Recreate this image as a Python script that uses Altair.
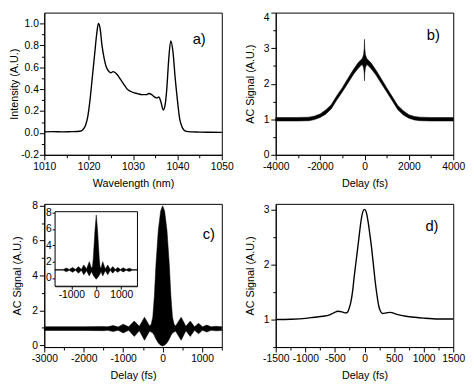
import altair as alt
import pandas as pd

FONT = "Liberation Sans"

# ---------------- data ----------------
# a) spectrum
wavelength = [1010, 1012, 1014, 1016, 1018, 1018.7, 1019.3, 1019.8, 1020.3, 1020.8,
              1021.3, 1021.8, 1022.2, 1022.6, 1023.0, 1023.5, 1024.0, 1024.5, 1025.0, 1025.5,
              1026.0, 1026.5, 1027.0, 1027.5, 1028.0, 1028.5, 1029.0, 1029.5, 1030.0, 1031.0,
              1032.0, 1033.0, 1033.6, 1034.2, 1034.8, 1035.4, 1035.8, 1036.3, 1036.8, 1037.2,
              1037.6, 1038.0, 1038.5, 1039.0, 1039.5, 1040.0, 1040.5, 1041.0, 1041.5, 1042.0,
              1043.0, 1045, 1047, 1050]
intensity = [0.01, 0.012, 0.01, 0.012, 0.015, 0.03, 0.07, 0.15, 0.3, 0.5,
             0.7, 0.9, 1.0, 0.95, 0.8, 0.68, 0.6, 0.565, 0.55, 0.56,
             0.55, 0.53, 0.5, 0.47, 0.44, 0.41, 0.39, 0.38, 0.37, 0.36,
             0.35, 0.35, 0.36, 0.35, 0.33, 0.32, 0.33, 0.28, 0.21, 0.25,
             0.4, 0.65, 0.84, 0.74, 0.5, 0.3, 0.13, 0.06, 0.025, 0.015,
             0.01, 0.008, 0.006, 0.005]

# b) intensity autocorrelation (band: upper / lower edge)
b_delay = [-4000, -3000, -2500, -2250, -2000, -1750, -1500, -1250, -1000, -750, -500,
           -300, -150, -100, -40, -12, 0, 12, 40, 100, 150, 300, 500, 750, 1000, 1250,
           1500, 1750, 2000, 2250, 2500, 3000, 4000]
b_upper = [1.05, 1.05, 1.06, 1.09, 1.15, 1.26, 1.41, 1.66, 1.89, 2.15, 2.4,
           2.58, 2.68, 2.71, 2.82, 3.0, 3.25, 3.0, 2.82, 2.71, 2.68, 2.58, 2.4, 2.15, 1.89, 1.64,
           1.39, 1.24, 1.13, 1.08, 1.06, 1.05, 1.05]
b_lower = [0.95, 0.95, 0.96, 0.99, 1.05, 1.14, 1.29, 1.54, 1.77, 2.01, 2.26,
           2.42, 2.52, 2.54, 2.45, 2.3, 2.08, 2.3, 2.45, 2.54, 2.52, 2.42, 2.26, 2.01, 1.77, 1.52,
           1.27, 1.12, 1.03, 0.98, 0.96, 0.95, 0.95]

# c) interferometric autocorrelation (fringe envelope)
c_delay = [-3000, -2000, -1500, -1400, -1250, -1130, -1000, -860, -720, -590, -460, -330,
           -290, -250, -210, -170, -110, -50, 0, 50, 110, 170, 210, 250,
           290, 330, 470, 590, 700, 810, 910, 1010, 1120, 1230, 1350, 1500]
c_upper = [1.06, 1.06, 1.07, 1.05, 1.12, 1.04, 1.2, 1.05, 1.38, 1.08, 1.6, 1.1,
           1.2, 1.6, 2.8, 4.6, 6.6, 7.7, 8.0, 7.7, 6.6, 4.6, 2.8, 1.6,
           1.2, 1.1, 1.6, 1.08, 1.38, 1.05, 1.25, 1.05, 1.15, 1.05, 1.08, 1.06]
c_lower = [0.84, 0.84, 0.83, 0.85, 0.78, 0.86, 0.7, 0.85, 0.5, 0.82, 0.28, 0.8,
           0.75, 0.7, 0.55, 0.35, 0.12, 0.0, -0.05, 0.0, 0.12, 0.35, 0.55, 0.7,
           0.75, 0.8, 0.28, 0.82, 0.5, 0.85, 0.65, 0.85, 0.75, 0.85, 0.82, 0.84]

# c) inset
inset_delay = [-1650, -1320, -1200, -1080, -950, -830, -710, -600, -500, -390, -280, -190,
               -150, -120, -90, -50, 0, 50, 90, 120, 150, 190, 260, 360, 460, 560, 660,
               760, 860, 970, 1080, 1200, 1320, 1440, 1650]
inset_upper = [1.05, 1.05, 1.22, 1.05, 1.3, 1.05, 1.4, 1.05, 1.6, 1.1, 2.0, 1.2,
               1.4, 2.4, 3.9, 5.9, 7.7, 5.9, 3.9, 2.4, 1.4, 1.2, 2.0, 1.1, 1.6, 1.05, 1.4,
               1.05, 1.3, 1.05, 1.25, 1.05, 1.2, 1.05, 1.05]
inset_lower = [0.95, 0.95, 0.78, 0.95, 0.7, 0.95, 0.6, 0.95, 0.4, 0.9, 0.25, 0.8,
               0.5, 0.35, 0.2, 0.05, -0.15, 0.05, 0.2, 0.35, 0.5, 0.8, 0.25, 0.9, 0.4, 0.95, 0.6,
               0.95, 0.7, 0.95, 0.75, 0.95, 0.8, 0.95, 0.95]

# d) intensity autocorrelation
d_delay = [-1500, -1250, -1000, -850, -700, -600, -520, -450, -380, -320, -290, -260,
           -230, -200, -175, -150, -120, -90, -60, -30, 0, 30, 60, 90, 120, 150, 180,
           210, 240, 270, 310, 370, 440, 500, 600, 700, 850, 1000, 1250, 1500]
d_signal = [1.0, 1.005, 1.02, 1.04, 1.06, 1.08, 1.12, 1.15, 1.14, 1.12, 1.13, 1.2,
            1.32, 1.52, 1.77, 1.99, 2.25, 2.52, 2.78, 2.95, 3.0, 2.95, 2.78, 2.55, 2.3, 2.0, 1.7,
            1.45, 1.25, 1.15, 1.11, 1.12, 1.13, 1.11, 1.08, 1.06, 1.04, 1.025, 1.01, 1.01]

panel_labels = ["a)", "b)", "c)", "d)"]

# ---------------- helpers ----------------
MINUS = "replace(datum.label, '\u2212', '-')"


def axis(title, values, major, fmt, orient, tpad, lpad=2, **kw):
    return alt.Axis(
        title=title, values=values, format=fmt, orient=orient,
        labelExpr=f"({major}) ? {MINUS} : ''",
        tickSize={"condition": {"test": major, "value": 5}, "value": 3},
        grid=False, labelOverlap=False, labelFlush=False,
        titlePadding=tpad, labelPadding=lpad, **kw,
    )


def sc(domain, **kw):
    return alt.Scale(domain=domain, nice=False, zero=False, **kw)


def label_layer(xenc, yenc, xv, yv, text):
    df = pd.DataFrame({"x": [xv], "y": [yv], "t": [text]})
    return alt.Chart(df).mark_text(fontSize=15, font=FONT, color="black").encode(
        x=xenc, y=yenc, text="t:N")


TOP_H = 145
BOT_H = 146
W = 181

# ---------------- panel a ----------------
xa = alt.X("x:Q", scale=sc([1010, 1050]),
           axis=axis("Wavelength (nm)", list(range(1010, 1051, 5)),
                     "datum.value % 10 == 0", "d", "bottom", 6))
ya = alt.Y("y:Q", scale=sc([-0.2, 1.1]),
           axis=axis("Intensity (A.U.)",
                     [-0.2, -0.1, 0.0, 0.1, 0.2, 0.3, 0.4, 0.5, 0.6, 0.7, 0.8, 0.9, 1.0],
                     "abs(round(datum.value * 10)) % 2 == 0", ".1f", "left", 1, 1))
dfa = pd.DataFrame({"x": wavelength, "y": intensity})
pa = alt.layer(
    alt.Chart(dfa).mark_line(color="black", strokeWidth=1.4, interpolate="monotone").encode(x=xa, y=ya),
    label_layer(xa, ya, 1044.9, 0.857, panel_labels[0]),
).properties(width=W, height=TOP_H)

# ---------------- panel b ----------------
xb = alt.X("x:Q", scale=sc([-4000, 4000]),
           axis=axis("Delay (fs)", list(range(-4000, 4001, 1000)),
                     "datum.value % 2000 == 0", "d", "bottom", 6))
yb = alt.Y("y:Q", scale=sc([0, 4]),
           axis=axis("AC Signal (A.U.)", [0, 0.5, 1, 1.5, 2, 2.5, 3, 3.5, 4],
                     "datum.value % 1 == 0", "~g", "left", 8,
                     labelBaseline={"condition": {"test": "datum.value == 4", "value": "top"},
                                    "value": "middle"}))
dfb = pd.DataFrame({"x": b_delay, "y": b_upper, "y2": b_lower})
pb = alt.layer(
    alt.Chart(dfb).mark_area(color="black", stroke="black", strokeWidth=0.5).encode(
        x=xb, y=yb, y2="y2:Q"),
    label_layer(xb, yb, 3100, 3.37, panel_labels[1]),
).properties(width=W, height=TOP_H)

# ---------------- panel c ----------------
xc = alt.X("x:Q", scale=sc([-3000, 1500]),
           axis=axis("Delay (fs)", list(range(-3000, 1501, 500)),
                     "datum.value % 1000 == 0", "d", "bottom", 6))
yc = alt.Y("y:Q", scale=sc([-0.11, 8.11]),
           axis=axis("AC Signal (A.U.)", list(range(0, 9)),
                     "datum.value % 2 == 0", "d", "left", 9))
dfc = pd.DataFrame({"x": c_delay, "y": c_upper, "y2": c_lower})
c_main = alt.layer(
    alt.Chart(dfc).mark_area(color="black", stroke="black", strokeWidth=0.5).encode(
        x=xc, y=yc, y2="y2:Q"),
    label_layer(xc, yc, 1170, 6.4, panel_labels[2]),
)

inset_axis_common = dict(title=None, tickSize=3, labelPadding=1, grid=False,
                         labelOverlap=False, labelFlush=False, labelExpr=MINUS)
xi = alt.X("x:Q", scale=sc([-1650, 1650], range=[11, 95]),
           axis=alt.Axis(orient="bottom", offset=-62, values=[-1000, 0, 1000], format="d",
                         **inset_axis_common))
yi = alt.Y("y:Q", scale=sc([-1, 8.1], range=[84, 8]),
           axis=alt.Axis(orient="left", offset=-11, values=[0, 2, 4, 6, 8], format="d",
                         **inset_axis_common))
frame_df = pd.DataFrame({"x": [-1650], "x2": [1650], "y": [-1], "y2": [8.1]})
dfi = pd.DataFrame({"x": inset_delay, "y": inset_upper, "y2": inset_lower})
c_inset = alt.layer(
    alt.Chart(frame_df).mark_rect(fill="white", stroke="black", strokeWidth=1).encode(
        x=xi, x2="x2:Q", y=yi, y2="y2:Q"),
    alt.Chart(dfi).mark_area(color="black", stroke="black", strokeWidth=0.5).encode(
        x=xi, y=yi, y2="y2:Q"),
)
pc = alt.layer(c_main, c_inset).resolve_scale(x="independent", y="independent").properties(
    width=W, height=BOT_H)

# ---------------- panel d ----------------
xd = alt.X("x:Q", scale=sc([-1500, 1500]),
           axis=axis("Delay (fs)", list(range(-1500, 1501, 250)),
                     "datum.value % 500 == 0", "d", "bottom", 6))
yd = alt.Y("y:Q", scale=sc([0.5, 3.1]),
           axis=axis("AC Signal (A.U.)", [0.5, 1, 1.5, 2, 2.5, 3],
                     "datum.value % 1 == 0", "~g", "left", 8))
dfd = pd.DataFrame({"x": d_delay, "y": d_signal})
pd_ = alt.layer(
    alt.Chart(dfd).mark_line(color="black", strokeWidth=1.4, interpolate="monotone").encode(x=xd, y=yd),
    label_layer(xd, yd, 1140, 2.69, panel_labels[3]),
).properties(width=W, height=BOT_H)

chart = alt.concat(
    pa, pb, pc, pd_, columns=2, spacing={"row": 50, "column": 55}, bounds="flush"
).configure_view(
    stroke="black", strokeWidth=1
).configure_axis(
    labelFont=FONT, titleFont=FONT, labelFontSize=10.5, titleFontSize=11,
    titleFontWeight="normal", labelColor="black", titleColor="black",
    domainColor="black", tickColor="black", domainWidth=1, tickWidth=1,
).configure_text(font=FONT).properties(
    padding=0,
    background="white",
)

chart.save("out.html", embed_options={"renderer": "svg", "actions": False})
